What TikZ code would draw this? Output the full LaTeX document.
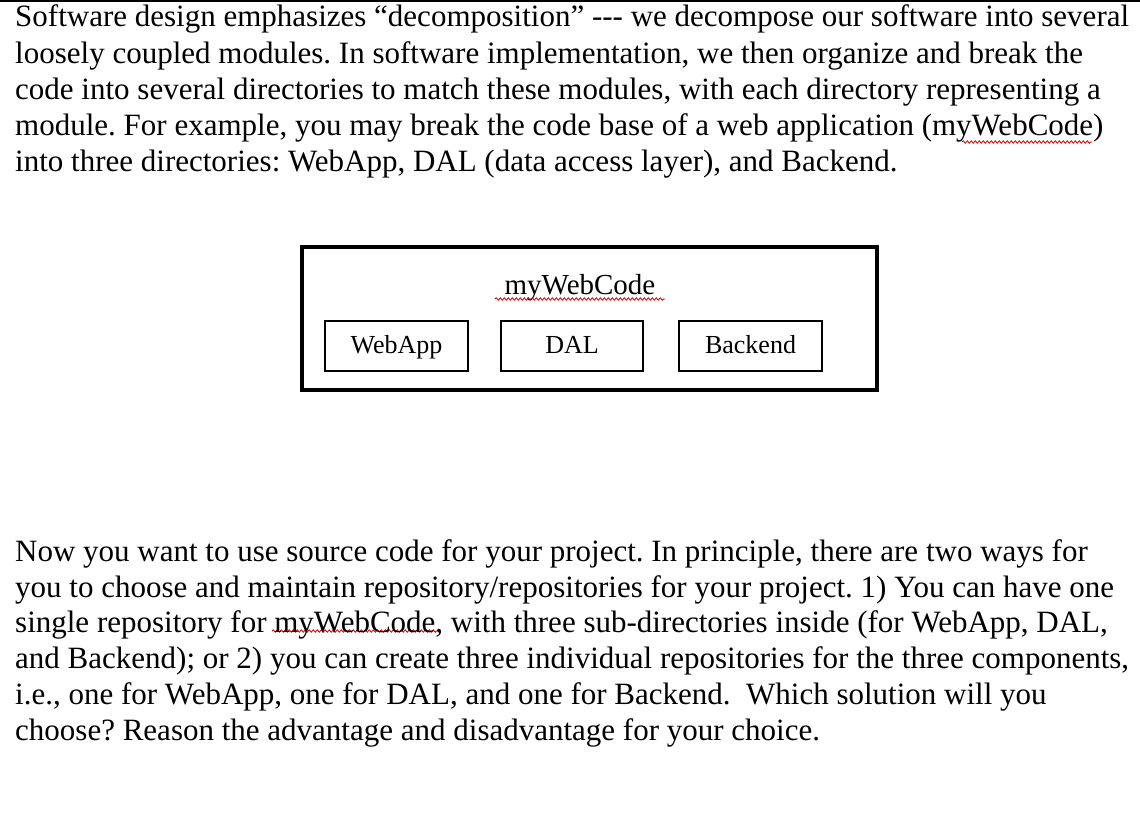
\documentclass[tikz,border=0pt]{standalone}
\usepackage{fontspec}
\setmainfont{Liberation Serif}
\usetikzlibrary{decorations.pathmorphing}
\frenchspacing
\begin{document}
\begin{tikzpicture}[x=1pt,y=-1pt,
  txt/.style={anchor=base west,inner sep=0pt,font=\fontsize{31}{34}\selectfont},
  sbox/.style={draw,line width=2pt,minimum height=50pt,inner sep=0pt,text height=17pt,text depth=3pt,font=\fontsize{26}{30}\selectfont},
  wav/.style={draw=red!80!black,line width=0.8pt,decorate,decoration={snake,amplitude=1.2pt,segment length=4pt}}]
\useasboundingbox (0,0) rectangle (1140,835);
\draw[line width=2pt] (0,1) -- (1140,1);
\node[txt] (l1) at (15,27) {Software design emphasizes “decomposition” -{}-{}- we decompose our software into several};
\node[txt] (l2) at (15,63) {loosely coupled modules. In software implementation, we then organize and break the};
\node[txt] (l3) at (15,99) {code into several directories to match these modules, with each directory representing a};
\node[txt] (l4) at (15,135) {module. For example, you may break the code base of a web application (myWebCode)};
\node[txt] (l5) at (15,171) {into three directories: WebApp, DAL (data access layer), and Backend.};
\draw[line width=4pt] (302,247) rectangle (877,390);
\node[anchor=base,inner sep=0pt,font=\fontsize{29}{32}\selectfont] (t) at (580,294) {myWebCode};
\draw[wav] (495,299) -- (665,299);
\draw[wav] (962,142) -- (1092,142);
\draw[wav] (272,631) -- (437,631);
\node[sbox,minimum width=143pt] (w) at (396.5,346) {WebApp};
\node[sbox,minimum width=142pt] (d) at (572,346) {DAL};
\node[sbox,minimum width=143pt] (b) at (750.5,346) {Backend};
\node[txt] (m1) at (15,561) {Now you want to use source code for your project. In principle, there are two ways for};
\node[txt] (m2) at (15,597) {you to choose and maintain repository/repositories for your project. 1) You can have one};
\node[txt] (m3) at (15,632) {single repository for myWebCode, with three sub-directories inside (for WebApp, DAL,};
\node[txt] (m4) at (15,668) {and Backend); or 2) you can create three individual repositories for the three components,};
\node[txt] (m5) at (15,704) {i.e., one for WebApp, one for DAL, and one for Backend.\ \ Which solution will you};
\node[txt] (m6) at (15,740) {choose? Reason the advantage and disadvantage for your choice.};
\end{tikzpicture}
\end{document}
